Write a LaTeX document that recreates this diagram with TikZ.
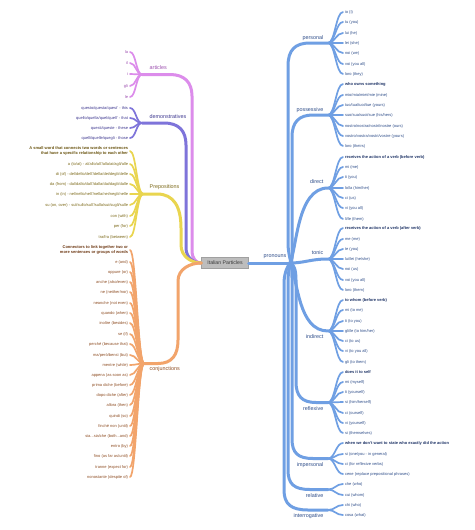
\documentclass[tikz,border=0pt]{standalone}
\usepackage{fontspec}
\setmainfont{Liberation Sans}
\definecolor{cArt}{HTML}{DC8CEB}
\definecolor{tArt}{HTML}{9B4DAE}
\definecolor{cDem}{HTML}{7E74DA}
\definecolor{tDem}{HTML}{3E3890}
\definecolor{cPre}{HTML}{E9D54F}
\definecolor{tPre}{HTML}{7D6A1A}
\definecolor{hPre}{HTML}{6A5410}
\definecolor{cCon}{HTML}{F2A46B}
\definecolor{tCon}{HTML}{8F4F25}
\definecolor{hCon}{HTML}{6E3914}
\definecolor{cPro}{HTML}{6F9FE3}
\definecolor{tPro}{HTML}{2F4E8A}
\definecolor{hPro}{HTML}{1E3366}
\definecolor{rootg}{HTML}{BDBDBD}
\definecolor{rootd}{HTML}{A0A0A0}
\definecolor{rootT}{HTML}{3A3A3A}
\newcommand\RLeaves[3]{%
  \foreach \yy/\lt [count=\ii] in {#3}{%
    \node[rleaf] (#2\ii) at (343,\yy) {\lt};
    \draw[lk,cPro] (#1) to[out=0,in=180,distance=7pt] (#2\ii.west);}}
\newcommand\LLeaves[5]{%
  \foreach \yy/\lt [count=\ii] in {#5}{%
    \node[lleaf,text=#3] (#2\ii) at (130,\yy) {\lt};
    \draw[lk,#4] (#1) to[out=180,in=0,distance=6pt] (#2\ii.east);}}
\begin{document}
\begin{tikzpicture}[x=1pt,y=-1pt,
  lf/.style={font=\fontsize{4}{4.9}\selectfont, inner sep=1.8pt},
  rleaf/.style={lf, anchor=west, align=left, text=tPro},
  rhead/.style={rleaf, text=hPro, font=\fontsize{4}{4.9}\selectfont\bfseries},
  lleaf/.style={lf, anchor=east, align=right},
  subl/.style={font=\fontsize{5.4}{6}\selectfont, inner sep=0.5pt},
  br/.style={line width=3pt, line cap=round},
  lk/.style={line width=1.7pt, line cap=round}]
\fill[white] (0,0) rectangle (474,530);
\useasboundingbox (0,0) rectangle (474,530);

% ---------- root ----------
\node[fill=rootg, draw=rootd, line width=0.4pt, minimum width=47pt, minimum height=11pt,
      inner sep=1pt, font=\fontsize{5.2}{6}\selectfont, text=rootT] (root) at (225,263) {Italian Particles};

% ---------- hubs ----------
\coordinate (pronh) at (290,263);
\coordinate (perh) at (328,43);
\coordinate (posh) at (328,115);
\coordinate (dirh) at (328,188);
\coordinate (tonh) at (328,259);
\coordinate (indh) at (328,331);
\coordinate (refh) at (328,402.5);
\coordinate (imph) at (328,458.5);
\coordinate (relh) at (328,489.5);
\coordinate (inth) at (328,510);
\coordinate (arth) at (142,74.5);
\coordinate (demh) at (142,123);
\coordinate (preh) at (143,194);
\coordinate (conh) at (144,363.5);

% ---------- main branches: left ----------
\draw[br,cArt] (root.west) .. controls (196,263) and (192,259) .. (192,250) -- (192,96)
   .. controls (192,82) and (184,74.5) .. (170,74.5) -- (arth);
\draw[br,cDem] (root.west) .. controls (194,263) and (186,258) .. (186,248) -- (186,145)
   .. controls (186,131) and (179,123) .. (164,123) -- (demh);
\draw[br,cPre] (root.west) .. controls (192,263) and (181,257) .. (181,245) -- (181,228)
   .. controls (181,207) and (174,194) .. (157,194) -- (preh);
\draw[br,cCon] (root.west) .. controls (190,263) and (178,269) .. (178,281) -- (178,340)
   .. controls (178,355) and (172,363.5) .. (158,363.5) -- (conh);

% ---------- main branches: right ----------
\draw[br,cPro] (root.east) -- (pronh);
\draw[br,cPro] (pronh) .. controls (292,263) and (288,255) .. (288,243) -- (288,66)
   .. controls (288,50) and (295,43) .. (310,43) -- (perh);
\draw[br,cPro] (pronh) .. controls (293,262) and (292,256) .. (292,245) -- (292,137)
   .. controls (292,122) and (299,115) .. (313,115) -- (posh);
\draw[br,cPro] (pronh) .. controls (297,248) and (297,188) .. (dirh);
\draw[br,cPro] (pronh) .. controls (305,263) and (310,259) .. (tonh);
\draw[br,cPro] (pronh) .. controls (298,280) and (298,331) .. (indh);
\draw[br,cPro] (pronh) .. controls (294,264) and (296,270) .. (296,280) -- (296,382)
   .. controls (296,396) and (302,402.5) .. (316,402.5) -- (refh);
\draw[br,cPro] (pronh) .. controls (292,265) and (292,271) .. (292,281) -- (292,439)
   .. controls (292,453) and (298,458.5) .. (313,458.5) -- (imph);
\draw[br,cPro] (pronh) .. controls (290,266) and (288,272) .. (288,282) -- (288,470)
   .. controls (288,484) and (294,489.5) .. (310,489.5) -- (relh);
\draw[br,cPro] (pronh) .. controls (288,266) and (284,272) .. (284,284) -- (284,490)
   .. controls (284,504) and (291,510) .. (308,510) -- (inth);

% ---------- branch labels ----------
\node[subl,text=tPro] (pronl) at (275,257) {pronouns};
\node[subl,text=tPro,anchor=east] (perl) at (324,38) {personal};
\node[subl,text=tPro,anchor=east] (posl) at (324,110) {possessive};
\node[subl,text=tPro,anchor=east] (dirl) at (324,182) {direct};
\node[subl,text=tPro,anchor=east] (tonl) at (324,253) {tonic};
\node[subl,text=tPro,anchor=east] (indl) at (324,337) {indirect};
\node[subl,text=tPro,anchor=east] (refl) at (324,409) {reflexive};
\node[subl,text=tPro,anchor=east] (impl) at (324,465) {impersonal};
\node[subl,text=tPro,anchor=east] (rell) at (324,496) {relative};
\node[subl,text=tPro,anchor=east] (intl) at (324,516) {interrogative};
\node[subl,text=tArt,anchor=west] (artl) at (149,68) {articles};
\node[subl,text=tDem,anchor=west] (deml) at (149,116.5) {demonstratives};
\node[subl,text=tPre,anchor=west] (prel) at (149,187) {Prepositions};
\node[subl,text=tCon,anchor=west] (conl) at (149,369.5) {conjunctions};

% ---------- right leaves ----------
\RLeaves{perh}{per}{12/io (I), 22/tu (you), 33/lui (he), 43/lei (she), 53/noi (we), 64/voi (you all), 74/loro (they)}

\node[rhead] (posH) at (343,84) {who owns something};
\draw[lk,cPro] (posh) to[out=0,in=180,distance=7pt] (posH.west);
\RLeaves{posh}{pos}{95/{mio/mia/miei/mie (mine)}, 105/{tuo/tua/tuoi/tue (yours)}, 115/{suo/sua/suoi/sue (his/hers)}, 126/{nostro/nostra/nostri/nostre (ours)}, 136/{vostro/vostra/vostri/vostre (yours)}, 146/loro (theirs)}

\node[rhead] (dirH) at (343,157) {receives the action of a verb (before verb)};
\draw[lk,cPro] (dirh) to[out=0,in=180,distance=7pt] (dirH.west);
\RLeaves{dirh}{dir}{167/mi (me), 177/ti (you), 188/{lo/la (him/her)}, 198/ci (us), 208/vi (you all), 219/{li/le (them)}}

\node[rhead] (tonH) at (343,228) {receives the action of a verb (after verb)};
\draw[lk,cPro] (tonh) to[out=0,in=180,distance=7pt] (tonH.west);
\RLeaves{tonh}{ton}{239/me (me), 249/te (you), 259/{lui/lei (he/she)}, 269/noi (us), 280/voi (you all), 290/loro (them)}

\node[rhead] (indH) at (343,300) {to whom (before verb)};
\draw[lk,cPro] (indh) to[out=0,in=180,distance=7pt] (indH.west);
\RLeaves{indh}{ind}{310/mi (to me), 321/ti (to you), 331/{gli/le (to him/her)}, 341/ci (to us), 351/vi (to you all), 362/gli (to them)}

\node[rhead] (refH) at (343,372) {does it to self};
\draw[lk,cPro] (refh) to[out=0,in=180,distance=7pt] (refH.west);
\RLeaves{refh}{ref}{382/mi (myself), 392/ti (yourself), 402/{si (him/herself)}, 413/ci (ourself), 423/vi (yourself), 433/si (themselves)}

\node[rhead] (impH) at (343,443) {when we don't want to state who exactly did the action};
\draw[lk,cPro] (imph) to[out=0,in=180,distance=7pt] (impH.west);
\RLeaves{imph}{imp}{454/{si (one/you - in general)}, 464/ci (for reflexive verbs), 474/cene (replace prepositional phrases)}

\RLeaves{relh}{rel}{484/che (who), 495/cui (whom)}
\RLeaves{inth}{int}{505/chi (who), 515/cosa (what)}

% ---------- left leaves ----------
\LLeaves{arth}{art}{tArt}{cArt}{52/la, 63/il, 74/i, 86/gli, 97/le}
\LLeaves{demh}{dem}{tDem}{cDem}{108/{questo/questa/quest' - this}, 118/{quello/quella/quel/quell' - that}, 128/{questi/queste - these}, 138/{quelli/quelle/quegli - those}}

\node[lleaf,text=hPre,font=\fontsize{4}{4.9}\selectfont\bfseries] (preH) at (130,151)
  {A small word that connects two words or sentences\\that have a specific relationship to each other};
\draw[lk,cPre] (preh) to[out=180,in=0,distance=6pt] (preH.east);
\LLeaves{preh}{pre}{tPre}{cPre}{164/{a (to/at) - al/allo/all'/alla/ai/agli/alle}, 174/{di (of) - del/dello/dell'/della/dei/degli/delle}, 184/{da (from) - dal/dallo/dall'/dalla/dai/dagli/dalle}, 194/{in (in) - nel/nello/nell'/nella/nei/negli/nelle}, 205/{su (on, over) - sul/sullo/sull'/sulla/sui/sugli/sulle}, 216/con (with), 226/per (for), 237/{tra/fra (between)}}

\node[lleaf,text=hCon,font=\fontsize{4}{4.9}\selectfont\bfseries] (conH) at (130,250)
  {Connectors to link together two or\\more sentences or groups of words};
\draw[lk,cCon] (conh) to[out=180,in=0,distance=6pt] (conH.east);
\LLeaves{conh}{con}{tCon}{cCon}{262/e (and), 272/oppure (or), 282/{anche (also/even)}, 292/{ne (neither/nor)}, 303/neanche (not even), 313/quando (when), 323/inoltre (besides), 334/se (if), 344/perché (because that), 355/{ma/però/bensì (but)}, 365/mentre (while), 375/appena (as soon as), 385/prima diche (before), 395/dopo diche (after), 405/allora (then), 416/quindi (so), 426/finché non (until), 436/{sia...sia/che (both...and)}, 446/entro (by), 456/{fino (as far as/until)}, 467/tranne (expect for), 477/nonostante (despite of)}
\end{tikzpicture}
\end{document}
